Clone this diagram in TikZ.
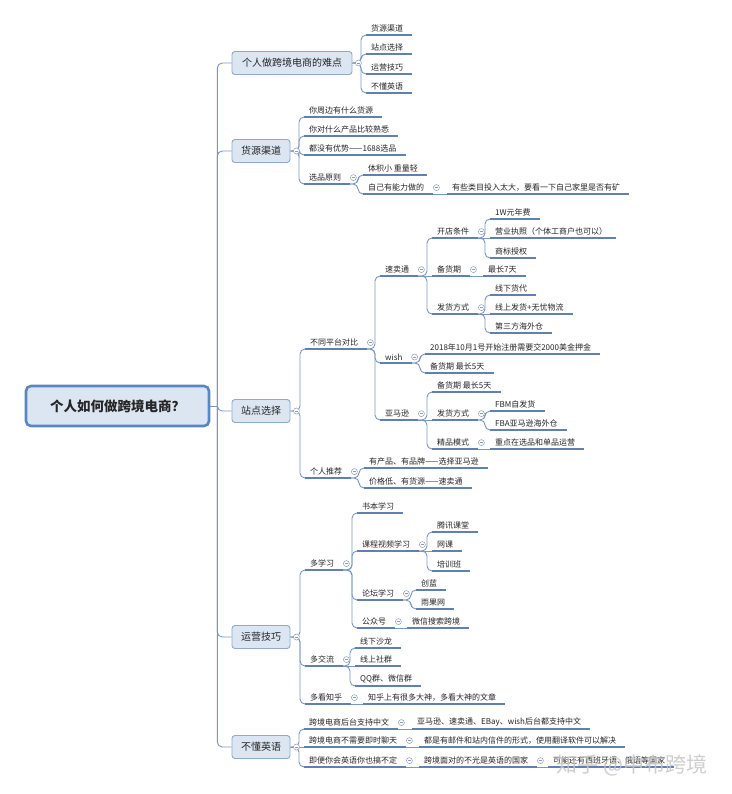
\documentclass[tikz,border=0pt]{standalone}
\usepackage{fontspec}
\setmainfont{Noto Sans CJK SC}
\usetikzlibrary{calc}
\definecolor{linec}{HTML}{7A97C2}
\definecolor{ulc}{HTML}{5E80B3}
\definecolor{boxc}{HTML}{8FA9CF}
\definecolor{boxf}{HTML}{DCE6F2}
\definecolor{rootc}{HTML}{5A86C3}
\definecolor{txtc}{HTML}{262626}
\definecolor{togc}{HTML}{8C9DB8}
\pgfdeclarelayer{bg}
\pgfsetlayers{bg,main}
\newcommand\mmbrk[2]{\draw[conn] (#1) -| ([xshift=-5pt]#2.south west) -- (#2.south west);}
\newcommand\mmstr[2]{\draw[conn] (#1) -- (#2.south west);}
\begin{document}
\begin{tikzpicture}[x=1pt,y=-1pt,
  conn/.style={draw=linec, line width=0.9pt, rounded corners=5pt},
  uline/.style={draw=ulc, line width=1.1pt},
  leaf/.style={anchor=south west, inner xsep=5pt, inner ysep=2.5pt, text=txtc,
    font=\fontsize{8}{9.6}\selectfont,
    append after command={(\tikzlastnode.south west) edge[uline] ([xshift=4pt]\tikzlastnode.south east)}},
  mainbox/.style={draw=boxc, fill=boxf, rounded corners=3pt, line width=0.9pt,
    minimum height=23pt, minimum width=58pt, inner xsep=6pt, text=txtc,
    font=\fontsize{10}{12}\selectfont},
  rootbox/.style={draw=rootc, fill=boxf, rounded corners=5pt, line width=2.6pt,
    minimum width=183pt, minimum height=40pt, text=txtc,
    font=\fontsize{13.5}{16}\selectfont\bfseries},
  tog/.style={circle, draw=togc, fill=white, line width=0.5pt, minimum size=6pt, inner sep=0pt,
    path picture={\draw[togc, line width=0.5pt] ([xshift=-1.7pt]path picture bounding box.center) -- ([xshift=1.7pt]path picture bounding box.center);}},
  wm/.style={text=black!22, font=\fontsize{21}{24}\selectfont, opacity=0.85}
]
\useasboundingbox (0,0) rectangle (731,794);
\begin{pgfonlayer}{bg}
\fill[white] (0,0) rectangle (731,794);
\end{pgfonlayer}

\node[rootbox] (root) at (117.5,406) {个人如何做跨境电商？};
\node[mainbox, minimum width=120pt] (m1) at (292,63) {个人做跨境电商的难点};
\node[mainbox] (m2) at (261,151) {货源渠道};
\node[mainbox] (m3) at (261,411) {站点选择};
\node[mainbox] (m4) at (261,637) {运营技巧};
\node[mainbox] (m5) at (261,747) {不懂英语};

% branch 1
\node[leaf] (a1) at (366,35) {货源渠道};
\node[leaf] (a2) at (366,54) {站点选择};
\node[leaf] (a3) at (366,74) {运营技巧};
\node[leaf] (a4) at (366,93) {不懂英语};
% branch 2
\node[leaf] (b1) at (304,117) {你周边有什么货源};
\node[leaf] (b2) at (304,136) {你对什么产品比较熟悉};
\node[leaf] (b3) at (304,155) {都没有优势——1688选品};
\node[leaf] (b4) at (304,184) {选品原则};
\node[leaf] (b41) at (363,175) {体积小 重量轻};
\node[leaf] (b42) at (363,194) {自己有能力做的};
\node[leaf] (b421) at (447,194) {有些类目投入太大，要看一下自己家里是否有矿};
% branch 3
\node[leaf] (c1) at (305,349) {不同平台对比};
\node[leaf] (c11) at (380,276) {速卖通};
\node[leaf] (c111) at (432,238) {开店条件};
\node[leaf] (c1111) at (490,219) {1W元年费};
\node[leaf] (c1112) at (490,238) {营业执照（个体工商户也可以）};
\node[leaf] (c1113) at (490,258) {商标授权};
\node[leaf] (c112) at (432,276) {备货期};
\node[leaf] (c1121) at (483,276) {最长7天};
\node[leaf] (c113) at (432,314) {发货方式};
\node[leaf] (c1131) at (490,295) {线下货代};
\node[leaf] (c1132) at (490,314) {线上发货+无忧物流};
\node[leaf] (c1133) at (490,333) {第三方海外仓};
\node[leaf] (c12) at (380,363) {wish};
\node[leaf] (c121) at (425,354) {2018年10月1号开始注册需要交2000美金押金};
\node[leaf] (c122) at (425,373) {备货期 最长5天};
\node[leaf] (c13) at (380,420) {亚马逊};
\node[leaf] (c131) at (432,392) {备货期 最长5天};
\node[leaf] (c132) at (432,420) {发货方式};
\node[leaf] (c1321) at (490,411) {FBM自发货};
\node[leaf] (c1322) at (490,430) {FBA亚马逊海外仓};
\node[leaf] (c133) at (432,449) {精品模式};
\node[leaf] (c1331) at (490,449) {重点在选品和单品运营};
\node[leaf] (c2) at (305,478) {个人推荐};
\node[leaf] (c21) at (364,468) {有产品、有品牌——选择亚马逊};
\node[leaf] (c22) at (364,488) {价格低、有货源——速卖通};
% branch 4
\node[leaf] (d1) at (305,570) {多学习};
\node[leaf] (d11) at (357,513) {书本学习};
\node[leaf] (d12) at (357,551) {课程视频学习};
\node[leaf] (d121) at (432,532) {腾讯课堂};
\node[leaf] (d122) at (432,551) {网课};
\node[leaf] (d123) at (432,571) {培训班};
\node[leaf] (d13) at (357,600) {论坛学习};
\node[leaf] (d131) at (416,590) {创蓝};
\node[leaf] (d132) at (416,609) {雨果网};
\node[leaf] (d14) at (357,628) {公众号};
\node[leaf] (d141) at (407,628) {微信搜索跨境};
\node[leaf] (d2) at (305,666) {多交流};
\node[leaf] (d21) at (355,648) {线下沙龙};
\node[leaf] (d22) at (355,666) {线上社群};
\node[leaf] (d23) at (355,686) {QQ群、微信群};
\node[leaf] (d3) at (305,704) {多看知乎};
\node[leaf] (d31) at (363,704) {知乎上有很多大神，多看大神的文章};
% branch 5
\node[leaf] (e1) at (304,729) {跨境电商后台支持中文};
\node[leaf] (e11) at (412,729) {亚马逊、速卖通、EBay、wish后台都支持中文};
\node[leaf] (e2) at (304,747) {跨境电商不需要即时聊天};
\node[leaf] (e21) at (419,747) {都是有邮件和站内信件的形式，使用翻译软件可以解决};
\node[leaf] (e3) at (304,767) {即便你会英语你也搞不定};
\node[leaf] (e31) at (419,767) {跨境面对的不光是英语的国家};
\node[leaf] (e311) at (548,767) {可能还有西班牙语、俄语等国家};

\begin{pgfonlayer}{bg}
\coordinate (sp) at ([xshift=7pt]root.east);
\draw[conn] (root.east) -- (sp);
\foreach \m in {m1,m2,m3,m4,m5} {\draw[conn] (sp) |- (\m.west);}
\mmbrk{m1.east}{a1}\mmbrk{m1.east}{a2}\mmbrk{m1.east}{a3}\mmbrk{m1.east}{a4}
\mmbrk{m2.east}{b1}\mmbrk{m2.east}{b2}\mmbrk{m2.east}{b3}\mmbrk{m2.east}{b4}
\mmbrk{b4.south east}{b41}\mmbrk{b4.south east}{b42}
\mmstr{b42.south east}{b421}
\mmbrk{m3.east}{c1}\mmbrk{m3.east}{c2}
\mmbrk{c1.south east}{c11}\mmbrk{c1.south east}{c12}\mmbrk{c1.south east}{c13}
\mmbrk{c11.south east}{c111}\mmstr{c11.south east}{c112}\mmbrk{c11.south east}{c113}
\mmbrk{c111.south east}{c1111}\mmstr{c111.south east}{c1112}\mmbrk{c111.south east}{c1113}
\mmstr{c112.south east}{c1121}
\mmbrk{c113.south east}{c1131}\mmstr{c113.south east}{c1132}\mmbrk{c113.south east}{c1133}
\mmbrk{c12.south east}{c121}\mmbrk{c12.south east}{c122}
\mmbrk{c13.south east}{c131}\mmstr{c13.south east}{c132}\mmbrk{c13.south east}{c133}
\mmbrk{c132.south east}{c1321}\mmbrk{c132.south east}{c1322}
\mmstr{c133.south east}{c1331}
\mmbrk{c2.south east}{c21}\mmbrk{c2.south east}{c22}
\mmbrk{m4.east}{d1}\mmbrk{m4.east}{d2}\mmbrk{m4.east}{d3}
\mmbrk{d1.south east}{d11}\mmbrk{d1.south east}{d12}\mmbrk{d1.south east}{d13}\mmbrk{d1.south east}{d14}
\mmbrk{d12.south east}{d121}\mmstr{d12.south east}{d122}\mmbrk{d12.south east}{d123}
\mmbrk{d13.south east}{d131}\mmbrk{d13.south east}{d132}
\mmstr{d14.south east}{d141}
\mmbrk{d2.south east}{d21}\mmstr{d2.south east}{d22}\mmbrk{d2.south east}{d23}
\mmstr{d3.south east}{d31}
\mmbrk{m5.east}{e1}\mmstr{m5.east}{e2}\mmbrk{m5.east}{e3}
\mmstr{e1.south east}{e11}
\mmstr{e2.south east}{e21}
\mmstr{e3.south east}{e31}
\mmstr{e31.south east}{e311}
\end{pgfonlayer}

% collapse markers
\foreach \m in {m1,m2,m3,m4,m5} {\node[tog] (t-\m) at ([xshift=6pt]\m.east) {};}
\foreach \p in {b4,b42,c1,c11,c111,c112,c113,c12,c13,c132,c133,c2,d1,d12,d13,d14,d2,d3,e1,e2,e3,e31}
  {\node[tog] (t-\p) at ([xshift=7pt]\p.east) {};}

\node[wm] (wm) at (632,765) {知乎 @中布跨境};
\end{tikzpicture}
\end{document}
